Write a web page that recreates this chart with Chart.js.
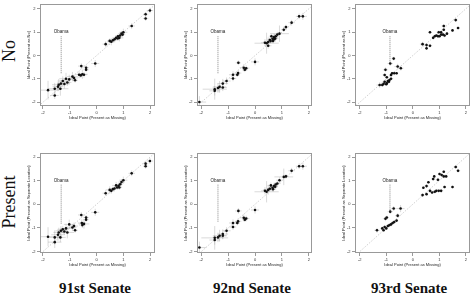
<!DOCTYPE html>
<html>
<head>
<meta charset="utf-8">
<script src="https://cdn.jsdelivr.net/npm/chart.js@4"></script>
<style>
  body { margin: 0; background: #fff; width: 474px; height: 293px; overflow: hidden; position: relative; }
  .panel { position: absolute; }
  .rowlab { position: absolute; width: 100px; height: 20px; line-height: 20px; text-align: center;
            font-family: 'Liberation Serif', serif; font-size: 18px; color: #111; transform: rotate(-90deg); }
  .collab { position: absolute; width: 130px; text-align: center; line-height: 18px;
            font-family: 'Liberation Serif', serif; font-weight: bold; font-size: 15px; color: #111; }
</style>
</head>
<body>
<div class="rowlab" style="left:-41px; top:41px;">No</div>
<div class="rowlab" style="left:-41px; top:192px;">Present</div>
<div class="collab" style="left:30px; top:279px;">91st Senate</div>
<div class="collab" style="left:187px; top:279px;">92nd Senate</div>
<div class="collab" style="left:344px; top:279px;">93rd Senate</div>

<script>
// --- data (ideal points) ---
const senates = ['91st Senate', '92nd Senate', '93rd Senate'];
const rowNames = ['No', 'Present'];
const xTitle = 'Ideal Point (Present as Missing)';
const yTitles = ['Ideal Point (Present as No)', 'Ideal Point (Present as Separate Location)'];
const tickValues = [-2, -1, 0, 1, 2];
const xLimits = [[-2.11, 2.18], [-2.16, 2.12], [-2.18, 2.16]];
const yLimits = [[-2.16, 2.21], [-2.06, 2.17]];

// present coded as "No"
const no91X = [1.99, 1.83, 1.83, 1.31, 1.00, 0.93, 0.97, 0.88, 0.80, 0.85, 0.79, 0.73, 0.67, 0.61, 0.55, 0.49, 0.34,
  -0.05, -0.57, -0.39, -0.39, -0.65, -0.53, -0.47, -0.59, -0.84, -0.80, -0.90,
  -1.02, -1.14, -1.09, -1.26, -1.33, -1.20, -1.41, -1.44, -1.35, -1.56, -1.81, -1.56];
const no91Y = [1.93, 1.77, 1.59, 1.27, 1.00, 0.94, 0.90, 0.86, 0.83, 0.76, 0.73, 0.76, 0.70, 0.66, 0.59, 0.63, 0.49,
  -0.34, -0.45, -0.52, -0.61, -0.82, -0.80, -0.82, -0.85, -0.96, -1.06, -0.90,
  -1.02, -0.99, -1.15, -1.09, -1.20, -1.22, -1.25, -1.33, -1.42, -1.42, -1.48, -1.71];
const no91Err = [0.12, 0.1, 0.1, 0.12, 0.15, 0.12, 0.1, 0.12, 0.1, 0.15, 0.1, 0.12, 0.1, 0.12, 0.15, 0.1, 0.12,
  0.15, 0.12, 0.1, 0.1, 0.15, 0.2, 0.12, 0.1, 0.15, 0.1, 0.2,
  0.2, 0.25, 0.15, 0.2, 0.15, 0.2, 0.25, 0.2, 0.3, 0.25, 0.4, 0.15];

const no92X = [1.78, 1.64, 1.36, 1.15, 1.07, 0.91, 0.83, 0.77, 0.71, 0.65, 0.55, 0.49, 0.43, 0.37, 0.49, 0.67, 0.75, 0.61,
  0.00, -0.62, -0.33, -0.38, -0.42, -0.63, -0.66, -0.82, -0.82,
  -1.06, -1.20, -1.32, -1.38, -1.50, -1.50, -1.20, -2.07, 0.71, 0.58];
const no92Y = [1.68, 1.68, 1.41, 1.22, 1.11, 0.94, 0.90, 0.83, 0.79, 0.72, 0.67, 0.58, 0.53, 0.55, 0.42, 0.63, 0.73, 0.83,
  -0.27, -0.31, -0.54, -0.61, -0.52, -0.75, -0.82, -0.82, -0.98,
  -1.09, -1.20, -1.34, -1.39, -1.44, -1.51, -1.37, -1.99, 0.70, 0.62];
const no92Err = [0.15, 0.12, 0.12, 0.1, 0.1, 0.35, 0.12, 0.1, 0.15, 0.12, 0.1, 0.2, 0.45, 0.15, 0.12, 0.1, 0.12, 0.1,
  0.15, 0.1, 0.12, 0.1, 0.15, 0.12, 0.1, 0.15, 0.12,
  0.15, 0.2, 0.25, 0.2, 0.45, 0.2, 0.15, 0.25, 0.1, 0.1];

const no93X = [1.62, 1.71, 1.50, 1.17, 1.17, 0.98, 1.07, 0.65, 0.83, 0.89, 0.95, 1.01, 1.07, 1.14, 0.77, 1.20, 1.29,
  0.37, 0.52, 0.52, 0.65,
  -0.72, -0.85, -0.57, -0.45, -0.78, -0.70, -0.61, -0.82, -1.03, -1.06, -0.98, -1.06, -0.98, -0.90,
  -1.00, -1.10, -1.25, -1.15, -0.88, -0.82, -0.94];
const no93Y = [1.52, 1.18, 1.08, 1.27, 1.11, 1.00, 1.00, 1.00, 0.83, 0.86, 0.83, 0.83, 0.90, 0.90, 0.76, 0.86, 0.94,
  0.49, 0.45, 0.31, 0.42,
  -0.13, -0.34, -0.47, -0.54, -0.76, -0.76, -0.76, -0.83, -0.61, -0.83, -0.93, -1.12, -1.18, -1.12,
  -1.23, -1.21, -1.26, -1.26, -1.05, -0.99, -1.09];
const no93Err = [0.08, 0.06, 0.06, 0.08, 0.06, 0.08, 0.06, 0.06, 0.08, 0.06, 0.08, 0.06, 0.06, 0.08, 0.06, 0.08, 0.06,
  0.1, 0.08, 0.06, 0.08,
  0.08, 0.1, 0.12, 0.1, 0.06, 0.08, 0.06, 0.08, 0.1, 0.08, 0.06, 0.08, 0.06, 0.08,
  0.06, 0.1, 0.12, 0.08, 0.06, 0.08, 0.06];

// present coded as a separate location
const pr91X = [1.99, 1.83, 1.83, 1.31, 1.00, 0.93, 0.88, 0.82, 0.77, 0.73, 0.85, 0.67, 0.61, 0.55, 0.49, 0.34,
  -0.05, -0.57, -0.39, -0.39, -0.55, -0.47, -0.53,
  -0.84, -0.80, -1.02, -1.14, -1.09, -1.26, -1.33, -1.20, -1.41, -1.44, -1.56, -1.81, -1.56, -1.35, -0.90];
const pr91Y = [1.83, 1.72, 1.61, 1.31, 1.02, 0.94, 0.85, 0.78, 0.71, 0.80, 0.71, 0.67, 0.64, 0.57, 0.61, 0.47,
  -0.34, -0.45, -0.56, -0.65, -0.79, -0.83, -0.88,
  -0.92, -1.10, -0.85, -1.02, -1.19, -1.06, -1.12, -1.15, -1.19, -1.29, -1.40, -1.37, -1.60, -1.40, -0.98];
const pr91Err = [0.12, 0.1, 0.1, 0.12, 0.15, 0.12, 0.1, 0.12, 0.1, 0.15, 0.1, 0.12, 0.1, 0.12, 0.15, 0.12,
  0.15, 0.12, 0.1, 0.1, 0.15, 0.2, 0.12,
  0.15, 0.1, 0.2, 0.2, 0.25, 0.15, 0.2, 0.15, 0.2, 0.25, 0.3, 0.4, 0.25, 0.2, 0.15];

const pr92X = [1.78, 1.64, 1.36, 1.15, 1.07, 0.91, 0.83, 0.77, 0.71, 0.65, 0.55, 0.49, 0.43, 0.37, 0.67, 0.75, 0.59,
  0.00, -0.62, -0.33, -0.38, -0.42, -0.63, -0.66, -0.82, -0.82,
  -1.06, -1.20, -1.32, -1.38, -1.50, -1.50, -1.20, -2.07];
const pr92Y = [1.61, 1.61, 1.42, 1.18, 1.16, 1.02, 0.88, 0.84, 0.77, 0.70, 0.66, 0.61, 0.53, 0.57, 0.64, 0.74, 0.80,
  -0.24, -0.28, -0.60, -0.65, -0.57, -0.72, -0.79, -0.79, -0.96,
  -1.12, -1.26, -1.33, -1.40, -1.42, -1.51, -1.33, -1.83];
const pr92Err = [0.15, 0.12, 0.12, 0.1, 0.35, 0.12, 0.12, 0.1, 0.15, 0.12, 0.1, 0.2, 0.45, 0.15, 0.12, 0.1, 0.12,
  0.15, 0.12, 0.12, 0.1, 0.15, 0.12, 0.1, 0.15, 0.12,
  0.15, 0.2, 0.25, 0.2, 0.5, 0.2, 0.15, 0.25];

const pr93X = [1.62, 1.71, 1.17, 1.17, 1.01, 1.09, 1.26, 0.81, 0.77, 0.59, 0.52, 0.40, 0.37, 0.52, 0.65, 0.73,
  0.83, 0.89, 0.98, 1.07, 1.20, 1.50, 0.95,
  -0.72, -0.46, -0.85, -0.57, -1.35, -1.15, -1.10, -1.06, -1.00, -0.94, -0.88, -0.82, -0.76, -0.70, -0.61, -1.03, -0.98];
const pr93Y = [1.58, 1.42, 1.38, 1.18, 1.28, 1.24, 1.18, 1.18, 1.07, 0.93, 0.77, 0.70, 0.39, 0.43, 0.57, 0.50,
  0.53, 0.57, 0.57, 0.57, 0.73, 0.73, 1.04,
  -0.18, -0.18, -0.31, -0.48, -1.10, -1.02, -1.10, -0.96, -1.02, -0.92, -0.88, -0.85, -0.79, -0.75, -0.69, -0.61, -0.56];
const pr93Err = [0.08, 0.08, 0.06, 0.08, 0.06, 0.08, 0.06, 0.06, 0.08, 0.06, 0.08, 0.06, 0.08, 0.06, 0.08, 0.06,
  0.08, 0.06, 0.06, 0.08, 0.06, 0.06, 0.08,
  0.1, 0.15, 0.1, 0.1, 0.1, 0.08, 0.06, 0.08, 0.06, 0.08, 0.06, 0.08, 0.06, 0.08, 0.06, 0.1, 0.08];

// Obama label: x of the arrow, and where the arrow ends
const obamaX = [-1.32, -1.38, -0.86, -1.32, -1.38, -0.86];
const obamaEnd = [-0.79, -0.79, -0.34, -0.82, -0.76, -0.31];
const obamaLabelY = 1.0;

// --- layout ---
const boxLeft = [40, 197, 355];
const boxTop = [0, 149];
const boxW = 118;
const boxH = [106, 104];
const yAxisW = 14, xAxisH = 16;

const panels = [
  [no91X, no91Y, no91Err], [no92X, no92Y, no92Err], [no93X, no93Y, no93Err],
  [pr91X, pr91Y, pr91Err], [pr92X, pr92Y, pr92Err], [pr93X, pr93Y, pr93Err]
];

function decor(xs, ys, err, k) {
  return {
    id: 'decor' + k,
    beforeDatasetsDraw(chart) {
      const { ctx, chartArea: a, scales: { x, y } } = chart;
      ctx.save();
      ctx.beginPath();
      ctx.rect(a.left, a.top, a.right - a.left, a.bottom - a.top);
      ctx.clip();
      ctx.strokeStyle = 'rgba(150,150,150,0.6)';
      ctx.lineWidth = 0.6;
      xs.forEach((v, i) => {
        const e = err[i], w = ys[i];
        const px = x.getPixelForValue(v), py = y.getPixelForValue(w);
        ctx.beginPath();
        ctx.moveTo(x.getPixelForValue(v - e), py);
        ctx.lineTo(x.getPixelForValue(v + e), py);
        ctx.moveTo(px, y.getPixelForValue(w - e));
        ctx.lineTo(px, y.getPixelForValue(w + e));
        ctx.stroke();
      });
      ctx.restore();
    },
    afterDraw(chart) {
      const { ctx, chartArea: a, scales: { x, y } } = chart;
      ctx.save();
      // plot frame
      ctx.strokeStyle = '#999';
      ctx.lineWidth = 1;
      ctx.strokeRect(a.left + 0.5, a.top + 0.5, a.right - a.left - 1, a.bottom - a.top - 1);
      // Obama annotation
      const ox = x.getPixelForValue(obamaX[k]);
      const ty = y.getPixelForValue(obamaLabelY);
      ctx.fillStyle = '#222';
      ctx.font = '4.5px "Liberation Sans", Arial, sans-serif';
      ctx.textAlign = 'center';
      ctx.textBaseline = 'middle';
      ctx.fillText('Obama', ox, ty);
      ctx.strokeStyle = '#555';
      ctx.lineWidth = 0.7;
      ctx.setLineDash([1, 1]);
      ctx.beginPath();
      ctx.moveTo(ox, ty + 4);
      ctx.lineTo(ox, y.getPixelForValue(obamaEnd[k]));
      ctx.stroke();
      ctx.restore();
    }
  };
}

const axisFont = { family: "'Liberation Sans', Arial, sans-serif", size: 4 };

panels.forEach(([xs, ys, err], k) => {
  const col = k % 3, row = Math.floor(k / 3);
  const div = document.createElement('div');
  div.className = 'panel';
  const w = boxW + yAxisW + 1, h = boxH[row] + xAxisH;
  div.style.left = (boxLeft[col] - yAxisW) + 'px';
  div.style.top = boxTop[row] + 'px';
  div.style.width = w + 'px';
  div.style.height = h + 'px';
  const cv = document.createElement('canvas');
  cv.width = w; cv.height = h;
  div.appendChild(cv);
  document.body.appendChild(div);

  new Chart(cv.getContext('2d'), {
    data: {
      datasets: [
        {
          type: 'scatter',
          data: xs.map((v, i) => ({ x: v, y: ys[i] })),
          pointRadius: 1.3,
          pointBackgroundColor: '#111',
          pointBorderWidth: 0
        },
        {
          type: 'line',
          data: [{ x: -3, y: -3 }, { x: 3, y: 3 }],
          borderColor: '#c4c4c4',
          borderWidth: 0.8,
          borderDash: [1.5, 1.5],
          pointRadius: 0
        }
      ]
    },
    options: {
      responsive: false,
      animation: false,
      events: [],
      layout: { padding: { left: 0, right: 1, top: 0, bottom: 0 } },
      plugins: { legend: { display: false }, tooltip: { enabled: false } },
      scales: {
        x: {
          type: 'linear',
          min: xLimits[col][0], max: xLimits[col][1],
          afterBuildTicks: s => { s.ticks = tickValues.map(v => ({ value: v })); },
          afterFit: s => { s.height = xAxisH; },
          ticks: { font: axisFont, color: '#333', padding: 1.5, maxRotation: 0 },
          grid: { drawOnChartArea: false, drawTicks: true, tickLength: 3, color: '#555', lineWidth: 0.6 },
          border: { display: false },
          title: { display: true, text: xTitle, font: axisFont, color: '#222', padding: { top: 0, bottom: 1.6 } }
        },
        y: {
          type: 'linear',
          min: yLimits[row][0], max: yLimits[row][1],
          afterBuildTicks: s => { s.ticks = tickValues.map(v => ({ value: v })); },
          afterFit: s => { s.width = yAxisW; },
          ticks: { font: axisFont, color: '#333', padding: 1.5 },
          grid: { drawOnChartArea: false, drawTicks: true, tickLength: 3, color: '#555', lineWidth: 0.6 },
          border: { display: false },
          title: { display: true, text: yTitles[row], font: axisFont, color: '#222', padding: { top: 0.6, bottom: 0 } }
        }
      }
    },
    plugins: [decor(xs, ys, err, k)]
  });
});
</script>
</body>
</html>
